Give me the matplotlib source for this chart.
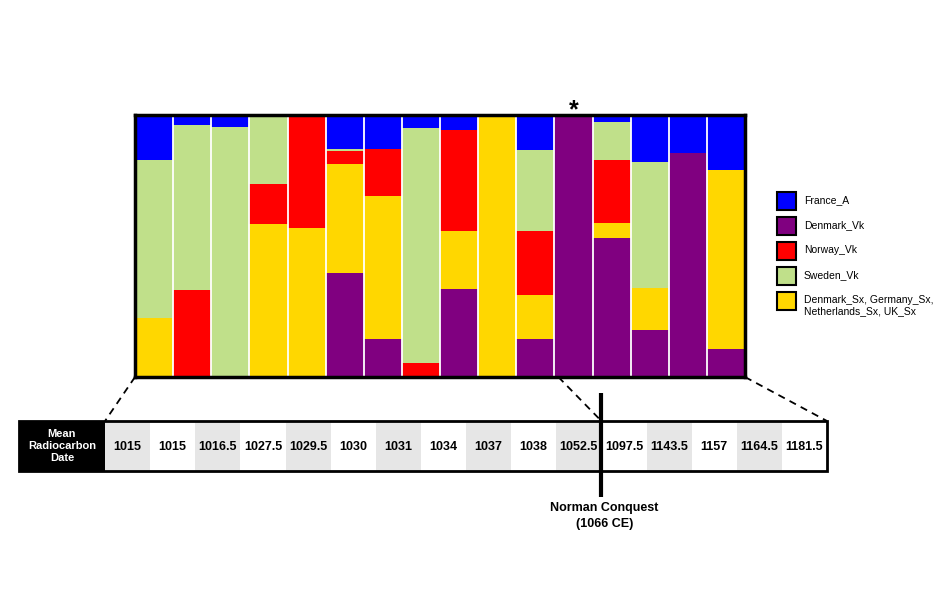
import numpy as np
import matplotlib.pyplot as plt
from matplotlib.patches import Rectangle

plt.rcParams['font.family'] = ['Liberation Sans', 'DejaVu Sans']

dates = ['1015', '1015', '1016.5', '1027.5', '1029.5', '1030', '1031', '1034',
         '1037', '1038', '1052.5', '1097.5', '1143.5', '1157', '1164.5', '1181.5']

# ancestry proportions per sample (bottom to top in stacking order)
denmark_vk = [0, 0, 0, 0, 0, 0.397, 0.146, 0, 0.334, 0, 0.146, 1.0, 0.529, 0.178, 0.854, 0.106]
saxon = [0.227, 0, 0, 0.583, 0.57, 0.415, 0.544, 0, 0.223, 1.0, 0.168, 0, 0.057, 0.162, 0, 0.683]
norway_vk = [0, 0.331, 0, 0.155, 0.43, 0.051, 0.182, 0.054, 0.386, 0, 0.242, 0, 0.242, 0, 0, 0]
sweden_vk = [0.601, 0.631, 0.953, 0.261, 0, 0.009, 0, 0.898, 0, 0, 0.312, 0, 0.144, 0.482, 0, 0]
france_a = [0.172, 0.038, 0.047, 0, 0, 0.127, 0.127, 0.048, 0.057, 0, 0.131, 0, 0.028, 0.178, 0.146, 0.211]

stack = [denmark_vk, saxon, norway_vk, sweden_vk, france_a]
stack_colors = ['#800080', '#FFD700', '#FF0000', '#C0E08A', '#0000FF']

legend_labels = ['France_A', 'Denmark_Vk', 'Norway_Vk', 'Sweden_Vk',
                 'Denmark_Sx, Germany_Sx,\nNetherlands_Sx, UK_Sx']
legend_colors = ['#0000FF', '#800080', '#FF0000', '#C0E08A', '#FFD700']

conquest = 1066
starred = 11

W, H = 947, 608
# layout in pixels
BAR_L, BAR_R, BAR_T, BAR_B = 135, 745, 115, 377
TAB_L, HEAD_R, TAB_R, TAB_T, TAB_B = 19, 105, 827, 421, 471

n = len(dates)

fig = plt.figure(figsize=(W / 100, H / 100), dpi=100)

# overlay axes in pixel coords for table / annotations
bg = fig.add_axes([0, 0, 1, 1], zorder=0)
bg.set_xlim(0, W)
bg.set_ylim(H, 0)
bg.axis('off')

ax = fig.add_axes([BAR_L / W, 1 - BAR_B / H, (BAR_R - BAR_L) / W, (BAR_B - BAR_T) / H], zorder=1)
x = np.arange(n)
bottom = np.zeros(n)
for vals, c in zip(stack, stack_colors):
    vals = np.array(vals)
    ax.bar(x, vals, bottom=bottom, width=1.0, color=c, linewidth=0)
    bottom += vals
for i in range(1, n):
    ax.axvline(i - 0.5, color='white', lw=1.3)
ax.set_xlim(-0.5, n - 0.5)
ax.set_ylim(0, 1)
ax.set_xticks([])
ax.set_yticks([])
for s in ax.spines.values():
    s.set_linewidth(2.5)
    s.set_color('black')
ax.text(starred, 0.99, '*', ha='center', va='baseline', fontsize=18,
        fontweight='bold', clip_on=False)

# legend
for i, (lab, c) in enumerate(zip(legend_labels, legend_colors)):
    yc = 201 + i * 25
    bg.add_patch(Rectangle((777, yc - 9), 19, 18, facecolor=c, edgecolor='black', lw=1.5))
    bg.text(804, yc - 6, lab, fontsize=7.5, va='top', ha='left')

# table
colw = (TAB_R - HEAD_R) / n
bg.add_patch(Rectangle((TAB_L, TAB_T), HEAD_R - TAB_L, TAB_B - TAB_T, facecolor='black', lw=0))
bg.text((TAB_L + HEAD_R) / 2, (TAB_T + TAB_B) / 2, 'Mean\nRadiocarbon\nDate', color='white',
        fontsize=8, fontweight='bold', ha='center', va='center')
for i, d in enumerate(dates):
    x0 = HEAD_R + i * colw
    fc = '#E6E6E6' if i % 2 == 0 else 'white'
    bg.add_patch(Rectangle((x0, TAB_T), colw, TAB_B - TAB_T, facecolor=fc, lw=0))
    bg.text(x0 + colw / 2, (TAB_T + TAB_B) / 2 + 1, d, fontsize=9, fontweight='bold',
            ha='center', va='center')
bg.add_patch(Rectangle((TAB_L, TAB_T), TAB_R - TAB_L, TAB_B - TAB_T, facecolor='none',
                       edgecolor='black', lw=2))

# zoom connectors
barw = (BAR_R - BAR_L) / n
k = sum(float(d) < conquest for d in dates)
dash = dict(color='black', lw=1.3, linestyle=(0, (4, 3)))
bg.plot([BAR_L, HEAD_R], [BAR_B, TAB_T], **dash)
bg.plot([BAR_R, TAB_R], [BAR_B, TAB_T], **dash)
bg.plot([BAR_L + k * barw + 4, HEAD_R + k * colw], [BAR_B, TAB_T], **dash)

# Norman Conquest marker
cx = HEAD_R + k * colw
bg.plot([cx, cx], [393, 497], color='black', lw=3, solid_capstyle='butt')
bg.text(cx + 3, 502, 'Norman Conquest\n(1066 CE)', fontsize=9, fontweight='bold',
        ha='center', va='top', linespacing=1.5)

fig.savefig('out.png', dpi=100)
